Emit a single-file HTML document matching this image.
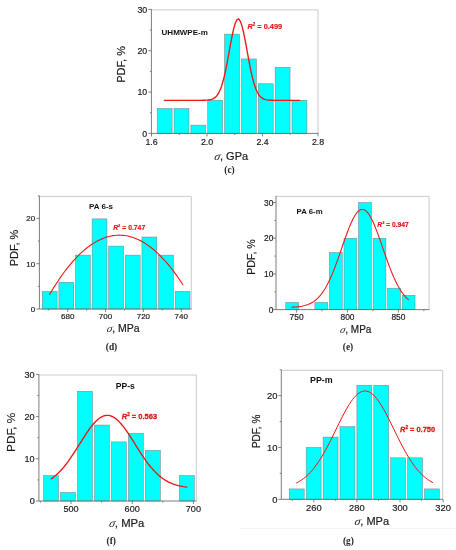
<!DOCTYPE html>
<html><head><meta charset="utf-8"><title>Figure</title>
<style>
html,body{margin:0;padding:0;background:#fff}
svg{display:block;font-family:"Liberation Sans", Arial, sans-serif}
text{stroke-width:0.18px}
.k{stroke:#1a1a1a}
.se{font-family:"Liberation Serif", "Times New Roman", serif}
</style></head><body>
<svg width="456" height="550" viewBox="0 0 456 550">
<rect width="456" height="550" fill="#fff"/>
<path d="M240 528.6H456" stroke="#f4f4f4" stroke-width="1"/>
<path d="M151.4 9.9H318V133.4" fill="none" stroke="#c4c4c4" stroke-width="0.9"/>
<rect x="157.2" y="108.59" width="14.9" height="24.81" fill="#00ffff" stroke="#7d8585" stroke-width="0.55"/>
<rect x="174.05" y="108.59" width="14.9" height="24.81" fill="#00ffff" stroke="#7d8585" stroke-width="0.55"/>
<rect x="190.9" y="125.13" width="14.9" height="8.27" fill="#00ffff" stroke="#7d8585" stroke-width="0.55"/>
<rect x="207.75" y="100.32" width="14.9" height="33.08" fill="#00ffff" stroke="#7d8585" stroke-width="0.55"/>
<rect x="224.6" y="34.16" width="14.9" height="99.24" fill="#00ffff" stroke="#7d8585" stroke-width="0.55"/>
<rect x="241.45" y="58.97" width="14.9" height="74.43" fill="#00ffff" stroke="#7d8585" stroke-width="0.55"/>
<rect x="258.3" y="83.78" width="14.9" height="49.62" fill="#00ffff" stroke="#7d8585" stroke-width="0.55"/>
<rect x="275.15" y="67.24" width="14.9" height="66.16" fill="#00ffff" stroke="#7d8585" stroke-width="0.55"/>
<rect x="292" y="100.32" width="14.9" height="33.08" fill="#00ffff" stroke="#7d8585" stroke-width="0.55"/>
<path d="M151.4 9.3V133.4H318.3" fill="none" stroke="#666" stroke-width="0.85"/>
<text x="151.5" y="145.4" font-size="8.8" text-anchor="middle" class="k" fill="#1a1a1a">1.6</text>
<text x="207" y="145.4" font-size="8.8" text-anchor="middle" class="k" fill="#1a1a1a">2.0</text>
<text x="262.5" y="145.4" font-size="8.8" text-anchor="middle" class="k" fill="#1a1a1a">2.4</text>
<text x="318" y="145.4" font-size="8.8" text-anchor="middle" class="k" fill="#1a1a1a">2.8</text>
<text x="147.2" y="136.57" font-size="8.8" text-anchor="end" class="k" fill="#1a1a1a">0</text>
<text x="147.2" y="95.22" font-size="8.8" text-anchor="end" class="k" fill="#1a1a1a">10</text>
<text x="147.2" y="53.87" font-size="8.8" text-anchor="end" class="k" fill="#1a1a1a">20</text>
<text x="147.2" y="12.52" font-size="8.8" text-anchor="end" class="k" fill="#1a1a1a">30</text>
<path d="M151.5 133.4v3M207 133.4v3M262.5 133.4v3M318 133.4v3M179.25 133.4v1.6M234.75 133.4v1.6M290.25 133.4v1.6M151.4 133.4h-3M151.4 92.05h-3M151.4 50.7h-3M151.4 9.35h-3M151.4 112.73h-1.6M151.4 71.38h-1.6M151.4 30.03h-1.6" fill="none" stroke="#666" stroke-width="0.8"/>
<path d="M164.2 100.32 L165.89 100.32 L167.59 100.32 L169.28 100.32 L170.97 100.32 L172.67 100.32 L174.36 100.32 L176.06 100.32 L177.75 100.32 L179.44 100.32 L181.14 100.32 L182.83 100.32 L184.52 100.32 L186.22 100.32 L187.91 100.32 L189.61 100.32 L191.3 100.32 L192.99 100.32 L194.69 100.32 L196.38 100.32 L198.07 100.32 L199.77 100.31 L201.46 100.3 L203.16 100.28 L204.85 100.25 L206.54 100.17 L208.24 100.04 L209.93 99.79 L211.62 99.38 L213.32 98.68 L215.01 97.58 L216.71 95.91 L218.4 93.46 L220.09 90.03 L221.79 85.44 L223.48 79.57 L225.17 72.4 L226.87 64.1 L228.56 55 L230.26 45.62 L231.95 36.66 L233.64 28.87 L235.34 22.97 L237.03 19.56 L238.72 19 L240.42 21.35 L242.11 26.36 L243.81 33.52 L245.5 42.13 L247.19 51.43 L248.89 60.71 L250.58 69.37 L252.27 76.99 L253.97 83.37 L255.66 88.44 L257.36 92.29 L259.05 95.08 L260.74 97.03 L262.44 98.32 L264.13 99.15 L265.82 99.66 L267.52 99.96 L269.21 100.13 L270.91 100.22 L272.6 100.27 L274.29 100.3 L275.99 100.31 L277.68 100.32 L279.38 100.32 L281.07 100.32 L282.76 100.32 L284.46 100.32 L286.15 100.32 L287.84 100.32 L289.54 100.32 L291.23 100.32 L292.92 100.32 L294.62 100.32 L296.31 100.32 L298.01 100.32 L299.7 100.32" fill="none" stroke="#f01414" stroke-width="1.35" stroke-linejoin="round" stroke-linecap="round"/>
<text x="161.6" y="34.9" font-size="8" font-weight="bold" fill="#111">UHMWPE-m</text>
<text transform="translate(247.4 28.7) scale(1 1)" font-size="7.4" font-weight="bold" fill="#e01515" stroke="#e01515" style="stroke-width:0.15px"><tspan font-style="italic">R</tspan><tspan font-size="4.44" dy="-3.11">2</tspan><tspan dy="3.11"> = 0.499</tspan></text>
<text transform="translate(125.3 64.4) rotate(-90)" font-size="11" text-anchor="middle" class="k" fill="#1a1a1a">PDF, %</text>
<text transform="translate(213.69 159.5) skewX(-14)" class="se" font-style="italic" font-size="11.66" fill="#1a1a1a">σ</text>
<text x="219.98" y="159.5" font-size="11" class="k" fill="#1a1a1a">, GPa</text>
<text x="229.5" y="173.2" class="se" font-size="9.4" font-weight="bold" text-anchor="middle" fill="#222">(c)</text>
<path d="M39.4 196.4H191.3V309" fill="none" stroke="#c4c4c4" stroke-width="0.9"/>
<rect x="42.3" y="291.38" width="14.8" height="17.62" fill="#00ffff" stroke="#7d8585" stroke-width="0.55"/>
<rect x="58.91" y="282.32" width="14.8" height="26.68" fill="#00ffff" stroke="#7d8585" stroke-width="0.55"/>
<rect x="75.52" y="255.14" width="14.8" height="53.86" fill="#00ffff" stroke="#7d8585" stroke-width="0.55"/>
<rect x="92.13" y="218.9" width="14.8" height="90.1" fill="#00ffff" stroke="#7d8585" stroke-width="0.55"/>
<rect x="108.74" y="246.08" width="14.8" height="62.92" fill="#00ffff" stroke="#7d8585" stroke-width="0.55"/>
<rect x="125.35" y="255.14" width="14.8" height="53.86" fill="#00ffff" stroke="#7d8585" stroke-width="0.55"/>
<rect x="141.96" y="237.02" width="14.8" height="71.98" fill="#00ffff" stroke="#7d8585" stroke-width="0.55"/>
<rect x="158.57" y="255.14" width="14.8" height="53.86" fill="#00ffff" stroke="#7d8585" stroke-width="0.55"/>
<rect x="175.18" y="291.38" width="14.8" height="17.62" fill="#00ffff" stroke="#7d8585" stroke-width="0.55"/>
<path d="M39.4 195.8V309H191.6" fill="none" stroke="#666" stroke-width="0.85"/>
<text x="67.7" y="319.1" font-size="8.0" text-anchor="middle" class="k" fill="#1a1a1a">680</text>
<text x="105.55" y="319.1" font-size="8.0" text-anchor="middle" class="k" fill="#1a1a1a">700</text>
<text x="143.4" y="319.1" font-size="8.0" text-anchor="middle" class="k" fill="#1a1a1a">720</text>
<text x="181.25" y="319.1" font-size="8.0" text-anchor="middle" class="k" fill="#1a1a1a">740</text>
<text x="35.2" y="311.88" font-size="8.0" text-anchor="end" class="k" fill="#1a1a1a">0</text>
<text x="35.2" y="266.58" font-size="8.0" text-anchor="end" class="k" fill="#1a1a1a">10</text>
<text x="35.2" y="221.28" font-size="8.0" text-anchor="end" class="k" fill="#1a1a1a">20</text>
<path d="M67.7 309v3M105.55 309v3M143.4 309v3M181.25 309v3M48.78 309v1.6M86.62 309v1.6M124.48 309v1.6M162.32 309v1.6M39.4 309h-3M39.4 263.7h-3M39.4 218.4h-3M39.4 286.35h-1.6M39.4 241.05h-1.6M39.4 195.75h-1.6" fill="none" stroke="#666" stroke-width="0.8"/>
<path d="M49.5 294.58 L51.17 291.77 L52.84 289.03 L54.5 286.36 L56.17 283.75 L57.84 281.22 L59.51 278.75 L61.17 276.35 L62.84 274.01 L64.51 271.75 L66.17 269.55 L67.84 267.42 L69.51 265.36 L71.18 263.37 L72.84 261.44 L74.51 259.59 L76.18 257.8 L77.85 256.08 L79.52 254.42 L81.18 252.84 L82.85 251.32 L84.52 249.87 L86.19 248.49 L87.85 247.18 L89.52 245.94 L91.19 244.76 L92.86 243.65 L94.52 242.61 L96.19 241.64 L97.86 240.73 L99.53 239.9 L101.19 239.13 L102.86 238.43 L104.53 237.79 L106.2 237.23 L107.86 236.73 L109.53 236.3 L111.2 235.94 L112.86 235.65 L114.53 235.43 L116.2 235.27 L117.87 235.18 L119.53 235.16 L121.2 235.21 L122.87 235.33 L124.54 235.51 L126.21 235.76 L127.87 236.08 L129.54 236.47 L131.21 236.92 L132.88 237.45 L134.54 238.04 L136.21 238.7 L137.88 239.43 L139.55 240.22 L141.21 241.09 L142.88 242.02 L144.55 243.02 L146.22 244.09 L147.88 245.22 L149.55 246.43 L151.22 247.7 L152.89 249.04 L154.55 250.45 L156.22 251.92 L157.89 253.47 L159.56 255.08 L161.22 256.76 L162.89 258.51 L164.56 260.32 L166.22 262.21 L167.89 264.16 L169.56 266.18 L171.23 268.27 L172.9 270.42 L174.56 272.65 L176.23 274.94 L177.9 277.3 L179.56 279.73 L181.23 282.23 L182.9 284.79" fill="none" stroke="#f01414" stroke-width="1.1" stroke-linejoin="round" stroke-linecap="round"/>
<text x="89" y="209" font-size="8" font-weight="bold" fill="#111">PA 6-s</text>
<text transform="translate(113.2 230.1) scale(1 1)" font-size="6.8" font-weight="bold" fill="#e01515" stroke="#e01515" style="stroke-width:0.15px"><tspan font-style="italic">R</tspan><tspan font-size="4.08" dy="-2.86">2</tspan><tspan dy="2.86"> = 0.747</tspan></text>
<text transform="translate(17.7 248) rotate(-90)" font-size="11" text-anchor="middle" class="k" fill="#1a1a1a">PDF, %</text>
<text transform="translate(106.28 332.2) skewX(-14)" class="se" font-style="italic" font-size="11.13" fill="#1a1a1a">σ</text>
<text x="112.29" y="332.2" font-size="10.5" class="k" fill="#1a1a1a">, MPa</text>
<text x="111.5" y="349.8" class="se" font-size="9.4" font-weight="bold" text-anchor="middle" fill="#222">(d)</text>
<path d="M276 196.4H429.1V309.6" fill="none" stroke="#c4c4c4" stroke-width="0.9"/>
<rect x="285.8" y="302.47" width="12.8" height="7.13" fill="#00ffff" stroke="#7d8585" stroke-width="0.55"/>
<rect x="314.9" y="302.47" width="12.8" height="7.13" fill="#00ffff" stroke="#7d8585" stroke-width="0.55"/>
<rect x="329.45" y="252.53" width="12.8" height="57.07" fill="#00ffff" stroke="#7d8585" stroke-width="0.55"/>
<rect x="344" y="238.26" width="12.8" height="71.34" fill="#00ffff" stroke="#7d8585" stroke-width="0.55"/>
<rect x="358.55" y="202.59" width="12.8" height="107.01" fill="#00ffff" stroke="#7d8585" stroke-width="0.55"/>
<rect x="373.1" y="238.26" width="12.8" height="71.34" fill="#00ffff" stroke="#7d8585" stroke-width="0.55"/>
<rect x="387.65" y="288.2" width="12.8" height="21.4" fill="#00ffff" stroke="#7d8585" stroke-width="0.55"/>
<rect x="402.2" y="295.33" width="12.8" height="14.27" fill="#00ffff" stroke="#7d8585" stroke-width="0.55"/>
<path d="M276 195.8V309.6H429.4" fill="none" stroke="#666" stroke-width="0.85"/>
<text x="296.6" y="319.9" font-size="8.4" text-anchor="middle" class="k" fill="#1a1a1a">750</text>
<text x="347.5" y="319.9" font-size="8.4" text-anchor="middle" class="k" fill="#1a1a1a">800</text>
<text x="398.4" y="319.9" font-size="8.4" text-anchor="middle" class="k" fill="#1a1a1a">850</text>
<text x="273.4" y="312.62" font-size="8.4" text-anchor="end" class="k" fill="#1a1a1a">0</text>
<text x="273.4" y="276.95" font-size="8.4" text-anchor="end" class="k" fill="#1a1a1a">10</text>
<text x="273.4" y="241.28" font-size="8.4" text-anchor="end" class="k" fill="#1a1a1a">20</text>
<text x="273.4" y="205.61" font-size="8.4" text-anchor="end" class="k" fill="#1a1a1a">30</text>
<path d="M296.6 309.6v3M347.5 309.6v3M398.4 309.6v3M322.05 309.6v1.6M372.95 309.6v1.6M423.85 309.6v1.6M276 309.6h-3M276 273.93h-3M276 238.26h-3M276 202.59h-3M276 291.77h-1.6M276 256.1h-1.6M276 220.43h-1.6" fill="none" stroke="#666" stroke-width="0.8"/>
<path d="M291.8 307.19 L293.26 307.12 L294.72 307.03 L296.17 306.92 L297.63 306.78 L299.09 306.61 L300.55 306.41 L302 306.16 L303.46 305.86 L304.92 305.51 L306.38 305.09 L307.83 304.58 L309.29 304 L310.75 303.31 L312.2 302.51 L313.66 301.58 L315.12 300.52 L316.58 299.3 L318.04 297.93 L319.49 296.37 L320.95 294.63 L322.41 292.69 L323.87 290.54 L325.32 288.18 L326.78 285.6 L328.24 282.79 L329.69 279.77 L331.15 276.53 L332.61 273.09 L334.07 269.46 L335.52 265.66 L336.98 261.7 L338.44 257.63 L339.9 253.47 L341.36 249.25 L342.81 245.03 L344.27 240.83 L345.73 236.71 L347.19 232.71 L348.64 228.89 L350.1 225.29 L351.56 221.95 L353.01 218.93 L354.47 216.26 L355.93 213.99 L357.39 212.14 L358.85 210.75 L360.3 209.83 L361.76 209.4 L363.22 209.47 L364.67 210.02 L366.13 211.07 L367.59 212.58 L369.05 214.54 L370.5 216.92 L371.96 219.68 L373.42 222.79 L374.88 226.2 L376.33 229.86 L377.79 233.73 L379.25 237.77 L380.71 241.91 L382.16 246.12 L383.62 250.35 L385.08 254.55 L386.54 258.7 L388 262.74 L389.45 266.66 L390.91 270.42 L392.37 274 L393.82 277.39 L395.28 280.57 L396.74 283.54 L398.2 286.29 L399.65 288.81 L401.11 291.12 L402.57 293.21 L404.03 295.1 L405.49 296.79 L406.94 298.3 L408.4 299.63" fill="none" stroke="#f01414" stroke-width="1.05" stroke-linejoin="round" stroke-linecap="round"/>
<text x="296.6" y="214" font-size="7.8" font-weight="bold" fill="#111">PA 6-m</text>
<text transform="translate(377.3 227) scale(1 1)" font-size="6.7" font-weight="bold" fill="#e01515" stroke="#e01515" style="stroke-width:0.15px"><tspan font-style="italic">R</tspan><tspan font-size="4.02" dy="-2.81">2</tspan><tspan dy="2.81"> = 0.947</tspan></text>
<text transform="translate(255.3 257) rotate(-90)" font-size="10.7" text-anchor="middle" class="k" fill="#1a1a1a">PDF, %</text>
<text transform="translate(339.58 332.9) skewX(-14)" class="se" font-style="italic" font-size="10.6" fill="#1a1a1a">σ</text>
<text x="345.3" y="332.9" font-size="10" class="k" fill="#1a1a1a">, MPa</text>
<text x="348" y="349.7" class="se" font-size="9.4" font-weight="bold" text-anchor="middle" fill="#222">(e)</text>
<path d="M38.9 375H196.3V501" fill="none" stroke="#c4c4c4" stroke-width="0.9"/>
<rect x="43.6" y="475.68" width="14.9" height="25.32" fill="#00ffff" stroke="#7d8585" stroke-width="0.55"/>
<rect x="60.57" y="492.56" width="14.9" height="8.44" fill="#00ffff" stroke="#7d8585" stroke-width="0.55"/>
<rect x="77.54" y="391.28" width="14.9" height="109.72" fill="#00ffff" stroke="#7d8585" stroke-width="0.55"/>
<rect x="94.51" y="425.04" width="14.9" height="75.96" fill="#00ffff" stroke="#7d8585" stroke-width="0.55"/>
<rect x="111.48" y="441.92" width="14.9" height="59.08" fill="#00ffff" stroke="#7d8585" stroke-width="0.55"/>
<rect x="128.45" y="433.48" width="14.9" height="67.52" fill="#00ffff" stroke="#7d8585" stroke-width="0.55"/>
<rect x="145.42" y="450.36" width="14.9" height="50.64" fill="#00ffff" stroke="#7d8585" stroke-width="0.55"/>
<rect x="179.36" y="475.68" width="14.9" height="25.32" fill="#00ffff" stroke="#7d8585" stroke-width="0.55"/>
<path d="M38.9 374.4V501H196.6" fill="none" stroke="#666" stroke-width="0.85"/>
<text x="71" y="512.3" font-size="9.1" text-anchor="middle" class="k" fill="#1a1a1a">500</text>
<text x="132.2" y="512.3" font-size="9.1" text-anchor="middle" class="k" fill="#1a1a1a">600</text>
<text x="193.4" y="512.3" font-size="9.1" text-anchor="middle" class="k" fill="#1a1a1a">700</text>
<text x="34.7" y="504.28" font-size="9.1" text-anchor="end" class="k" fill="#1a1a1a">0</text>
<text x="34.7" y="462.08" font-size="9.1" text-anchor="end" class="k" fill="#1a1a1a">10</text>
<text x="34.7" y="419.88" font-size="9.1" text-anchor="end" class="k" fill="#1a1a1a">20</text>
<text x="34.7" y="377.68" font-size="9.1" text-anchor="end" class="k" fill="#1a1a1a">30</text>
<path d="M71 501v3M132.2 501v3M193.4 501v3M40.4 501v1.6M101.6 501v1.6M162.8 501v1.6M38.9 501h-3M38.9 458.8h-3M38.9 416.6h-3M38.9 374.4h-3M38.9 479.9h-1.6M38.9 437.7h-1.6M38.9 395.5h-1.6" fill="none" stroke="#666" stroke-width="0.8"/>
<path d="M51.3 478.88 L52.99 477.66 L54.69 476.32 L56.38 474.86 L58.07 473.29 L59.77 471.59 L61.46 469.77 L63.16 467.83 L64.85 465.78 L66.54 463.61 L68.24 461.33 L69.93 458.95 L71.62 456.49 L73.32 453.94 L75.01 451.33 L76.71 448.67 L78.4 445.98 L80.09 443.27 L81.79 440.57 L83.48 437.9 L85.17 435.27 L86.87 432.72 L88.56 430.26 L90.26 427.92 L91.95 425.73 L93.64 423.69 L95.34 421.83 L97.03 420.18 L98.72 418.75 L100.42 417.55 L102.11 416.6 L103.81 415.91 L105.5 415.49 L107.19 415.33 L108.89 415.45 L110.58 415.84 L112.28 416.5 L113.97 417.42 L115.66 418.59 L117.36 419.99 L119.05 421.62 L120.74 423.45 L122.44 425.46 L124.13 427.64 L125.83 429.96 L127.52 432.41 L129.21 434.95 L130.91 437.56 L132.6 440.23 L134.29 442.93 L135.99 445.64 L137.68 448.33 L139.38 451 L141.07 453.62 L142.76 456.17 L144.46 458.65 L146.15 461.04 L147.84 463.33 L149.54 465.51 L151.23 467.58 L152.93 469.54 L154.62 471.37 L156.31 473.08 L158.01 474.67 L159.7 476.14 L161.39 477.49 L163.09 478.73 L164.78 479.86 L166.47 480.89 L168.17 481.81 L169.86 482.64 L171.56 483.39 L173.25 484.05 L174.94 484.64 L176.64 485.16 L178.33 485.61 L180.02 486.01 L181.72 486.36 L183.41 486.67 L185.11 486.93 L186.8 487.15" fill="none" stroke="#f01414" stroke-width="1.35" stroke-linejoin="round" stroke-linecap="round"/>
<text x="115.8" y="389" font-size="8.6" font-weight="bold" fill="#111">PP-s</text>
<text transform="translate(121.8 419.2) scale(0.94 1)" font-size="8" font-weight="bold" fill="#e01515" stroke="#e01515" style="stroke-width:0.3px"><tspan font-style="italic">R</tspan><tspan font-size="4.8" dy="-3.36">2</tspan><tspan dy="3.36"> = 0.563</tspan></text>
<text transform="translate(15 432.3) rotate(-90)" font-size="11.8" text-anchor="middle" class="k" fill="#1a1a1a">PDF, %</text>
<text transform="translate(108.41 526.5) skewX(-14)" class="se" font-style="italic" font-size="11.98" fill="#1a1a1a">σ</text>
<text x="114.87" y="526.5" font-size="11.3" class="k" fill="#1a1a1a">, MPa</text>
<text x="111.3" y="544.2" class="se" font-size="9.4" font-weight="bold" text-anchor="middle" fill="#222">(f)</text>
<path d="M281.3 370.3H442.7V499.3" fill="none" stroke="#c4c4c4" stroke-width="0.9"/>
<rect x="289.3" y="488.93" width="14.9" height="10.37" fill="#00ffff" stroke="#7d8585" stroke-width="0.55"/>
<rect x="306.2" y="447.46" width="14.9" height="51.84" fill="#00ffff" stroke="#7d8585" stroke-width="0.55"/>
<rect x="323.1" y="437.09" width="14.9" height="62.21" fill="#00ffff" stroke="#7d8585" stroke-width="0.55"/>
<rect x="340" y="426.72" width="14.9" height="72.58" fill="#00ffff" stroke="#7d8585" stroke-width="0.55"/>
<rect x="356.9" y="385.25" width="14.9" height="114.05" fill="#00ffff" stroke="#7d8585" stroke-width="0.55"/>
<rect x="373.8" y="385.25" width="14.9" height="114.05" fill="#00ffff" stroke="#7d8585" stroke-width="0.55"/>
<rect x="390.7" y="457.83" width="14.9" height="41.47" fill="#00ffff" stroke="#7d8585" stroke-width="0.55"/>
<rect x="407.6" y="457.83" width="14.9" height="41.47" fill="#00ffff" stroke="#7d8585" stroke-width="0.55"/>
<rect x="424.5" y="488.93" width="14.9" height="10.37" fill="#00ffff" stroke="#7d8585" stroke-width="0.55"/>
<path d="M281.3 369.7V499.3H443" fill="none" stroke="#666" stroke-width="0.85"/>
<text x="313.8" y="510.8" font-size="9.4" text-anchor="middle" class="k" fill="#1a1a1a">260</text>
<text x="356.9" y="510.8" font-size="9.4" text-anchor="middle" class="k" fill="#1a1a1a">280</text>
<text x="400" y="510.8" font-size="9.4" text-anchor="middle" class="k" fill="#1a1a1a">300</text>
<text x="443.1" y="510.8" font-size="9.4" text-anchor="middle" class="k" fill="#1a1a1a">320</text>
<text x="277.5" y="502.68" font-size="9.4" text-anchor="end" class="k" fill="#1a1a1a">0</text>
<text x="277.5" y="450.84" font-size="9.4" text-anchor="end" class="k" fill="#1a1a1a">10</text>
<text x="277.5" y="399" font-size="9.4" text-anchor="end" class="k" fill="#1a1a1a">20</text>
<path d="M313.8 499.3v3M356.9 499.3v3M400 499.3v3M443.1 499.3v3M292.25 499.3v1.6M335.35 499.3v1.6M378.45 499.3v1.6M421.55 499.3v1.6M281.3 499.3h-3M281.3 447.46h-3M281.3 395.62h-3M281.3 473.38h-1.6M281.3 421.54h-1.6M281.3 369.7h-1.6" fill="none" stroke="#666" stroke-width="0.8"/>
<path d="M296.6 482.86 L298.3 481.98 L300 480.98 L301.7 479.88 L303.4 478.67 L305.1 477.33 L306.8 475.85 L308.5 474.25 L310.2 472.5 L311.9 470.6 L313.6 468.56 L315.3 466.37 L317 464.03 L318.7 461.54 L320.4 458.9 L322.1 456.13 L323.8 453.22 L325.5 450.18 L327.2 447.03 L328.9 443.78 L330.6 440.45 L332.3 437.05 L334 433.6 L335.7 430.12 L337.4 426.64 L339.1 423.18 L340.8 419.76 L342.5 416.42 L344.2 413.18 L345.9 410.06 L347.6 407.09 L349.3 404.31 L351 401.73 L352.7 399.38 L354.4 397.29 L356.1 395.46 L357.8 393.93 L359.5 392.7 L361.2 391.79 L362.9 391.21 L364.6 390.96 L366.3 391.05 L368 391.48 L369.7 392.23 L371.4 393.31 L373.1 394.7 L374.8 396.39 L376.5 398.36 L378.2 400.6 L379.9 403.07 L381.6 405.76 L383.3 408.64 L385 411.69 L386.7 414.88 L388.4 418.18 L390.1 421.56 L391.8 425.01 L393.5 428.48 L395.2 431.96 L396.9 435.43 L398.6 438.86 L400.3 442.22 L402 445.52 L403.7 448.71 L405.4 451.8 L407.1 454.77 L408.8 457.61 L410.5 460.32 L412.2 462.88 L413.9 465.29 L415.6 467.55 L417.3 469.66 L419 471.63 L420.7 473.44 L422.4 475.11 L424.1 476.65 L425.8 478.05 L427.5 479.33 L429.2 480.48 L430.9 481.52 L432.6 482.46" fill="none" stroke="#f01414" stroke-width="1.0" stroke-linejoin="round" stroke-linecap="round"/>
<text x="310" y="383.4" font-size="8.9" font-weight="bold" fill="#111">PP-m</text>
<text transform="translate(400 432.4) scale(0.925 1)" font-size="8.1" font-weight="bold" fill="#e01515" stroke="#e01515" style="stroke-width:0.3px"><tspan font-style="italic">R</tspan><tspan font-size="4.86" dy="-3.4">2</tspan><tspan dy="3.4"> = 0.750</tspan></text>
<text transform="translate(259.8 431.4) rotate(-90)" font-size="10" text-anchor="middle" class="k" fill="#1a1a1a">PDF, %</text>
<text transform="translate(353.99 525.1) skewX(-14)" class="se" font-style="italic" font-size="11.66" fill="#1a1a1a">σ</text>
<text x="360.28" y="525.1" font-size="11" class="k" fill="#1a1a1a">, MPa</text>
<text x="348.4" y="544.2" class="se" font-size="9.4" font-weight="bold" text-anchor="middle" fill="#222">(g)</text>
</svg>
</body></html>
